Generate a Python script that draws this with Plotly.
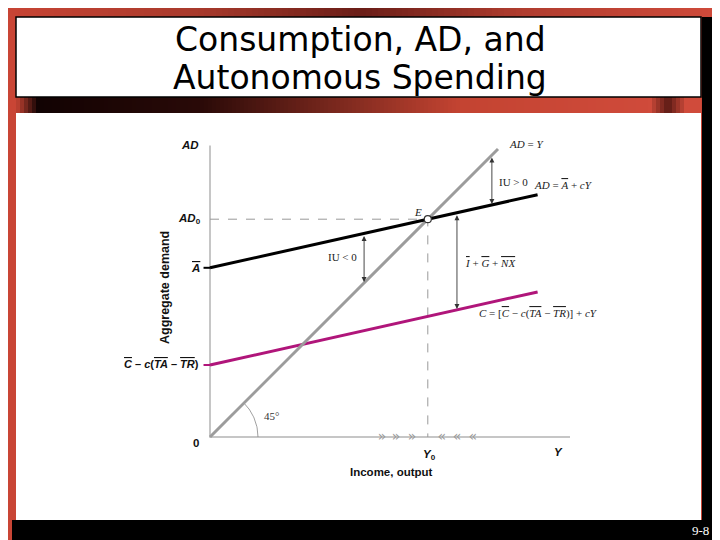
import numpy as np
import plotly.graph_objects as go

# chart values, in diagram units (1 unit = 36 px on the slide)
income = [0, 9.1]
ad_line = [4.7, 6.73]
consumption = [2.0, 4.03]
diag = [0, 8.0]
y0 = 6.05
ad0 = 6.05
axis_x_max = 10.0
axis_y_max = 8.1
iu_neg_x = 4.28
iu_pos_x = 7.83
spend_x = 6.86
right_marks = [4.78, 5.17, 5.61]
left_marks = [6.44, 6.86, 7.3]

# the page puts the figure 8px in from the top-left corner
OFF = 8
SW, SH = 720, 540
W, H = SW - OFF, SH - OFF
PX = 36
OX, OY = 210, 437


def dx(px):
    return (px - OX) / PX


def dy(py):
    return (OY - py) / PX


def ol(s):
    return '<span style="text-decoration:overline">' + s + '</span>'


def pxx(sx):
    return (sx - OFF) / W


def pxy(sy):
    return 1 - (sy - OFF) / H


shapes = []


def rect(x0, y0_, x1, y1, fill, line=None, lw=0):
    shapes.append(dict(type='rect', xref='paper', yref='paper',
                       x0=pxx(x0), x1=pxx(x1), y0=pxy(y1), y1=pxy(y0_),
                       fillcolor=fill, line=dict(color=line or fill, width=lw),
                       layer='below'))


def hexc(c):
    return np.array([int(c[i:i + 2], 16) for i in (1, 3, 5)], float)


def gradient(xs, cols, y0_, y1, step=6):
    xs = np.array(xs, float)
    cs = np.array([hexc(c) for c in cols])
    for x in np.arange(xs[0], xs[-1], step):
        m = x + step / 2
        rgb = [np.interp(m, xs, cs[:, k]) for k in range(3)]
        rect(x, y0_, min(x + step + 0.5, xs[-1]), y1,
             'rgb(%d,%d,%d)' % tuple(int(v) for v in rgb))


# slide decoration
gradient([0, 200, 360, 520, 720],
         ['#c94535', '#a83a2c', '#6a1e18', '#b03d2f', '#d04b3b'], 0, 17.5)
gradient([16, 38, 200, 460, 650, 668, 686, 701],
         ['#c94535', '#120303', '#2a0a08', '#c44432', '#d04b3b', '#5a1a14',
          '#d04b3b', '#d04b3b'], 97, 113, step=4)
rect(16, 17, 701, 97, 'white', 'black', 1.5)
rect(702, 17, 720, 540, 'black')
rect(16, 113, 701, 520, 'white')
rect(12, 520, 720, 540, 'black')

fig = go.Figure()

gray = '#9c9c9c'
# axes
fig.add_trace(go.Scatter(x=[0, 0, axis_x_max], y=[axis_y_max, 0, 0], mode='lines',
                         line=dict(color='#b4b4b4', width=1.5), hoverinfo='skip'))
# dashed guides
fig.add_trace(go.Scatter(x=[0, y0, y0], y=[ad0, ad0, 0], mode='lines',
                         line=dict(color='#999999', width=1, dash='dash'),
                         hoverinfo='skip'))
# 45 degree arc
t = np.linspace(0, np.pi / 4, 30)
r = 48 / PX
fig.add_trace(go.Scatter(x=r * np.cos(t), y=r * np.sin(t), mode='lines',
                         line=dict(color='#888888', width=0.8), hoverinfo='skip'))
# small ticks left of the axis
fig.add_trace(go.Scatter(x=[-0.18, 0], y=[ad_line[0]] * 2, mode='lines',
                         line=dict(color='black', width=2), hoverinfo='skip'))
fig.add_trace(go.Scatter(x=[-0.18, 0], y=[consumption[0]] * 2, mode='lines',
                         line=dict(color='#b0157a', width=2), hoverinfo='skip'))
# lines
fig.add_trace(go.Scatter(x=income, y=consumption, mode='lines',
                         line=dict(color='#b0157a', width=3), hoverinfo='skip'))
fig.add_trace(go.Scatter(x=diag, y=diag, mode='lines',
                         line=dict(color=gray, width=3), hoverinfo='skip'))
fig.add_trace(go.Scatter(x=income, y=ad_line, mode='lines',
                         line=dict(color='black', width=3), hoverinfo='skip'))
fig.add_trace(go.Scatter(x=[y0], y=[ad0], mode='markers',
                         marker=dict(color='white', size=7,
                                     line=dict(color='#333333', width=1.2)),
                         hoverinfo='skip'))
# arrows on the income axis
fig.add_trace(go.Scatter(x=right_marks, y=[0] * 3, mode='text', text=['»'] * 3,
                         textfont=dict(color='#999999', size=14, family='DejaVu Sans'),
                         hoverinfo='skip'))
fig.add_trace(go.Scatter(x=left_marks, y=[0] * 3, mode='text', text=['«'] * 3,
                         textfont=dict(color='#999999', size=14, family='DejaVu Sans'),
                         hoverinfo='skip'))

ann = []


def arrow(x, ya, yb):
    ann.append(dict(x=x, y=yb, ax=x, ay=ya, xref='x', yref='y', axref='x', ayref='y',
                    text='', showarrow=True, arrowhead=2, arrowside='end+start',
                    arrowsize=1.1, arrowwidth=0.9, arrowcolor='#333333',
                    standoff=1, startstandoff=1))


arrow(iu_neg_x, np.interp(iu_neg_x, income, ad_line), np.interp(iu_neg_x, diag, diag))
arrow(iu_pos_x, np.interp(iu_pos_x, diag, diag), np.interp(iu_pos_x, income, ad_line))
arrow(spend_x, np.interp(spend_x, income, ad_line), np.interp(spend_x, income, consumption))

serif = dict(family='Liberation Serif', size=11, color='#222222')
sans = dict(family='Liberation Sans', size=11.5, color='#111111')


def lab(px, py, text, font, xa='left', angle=0):
    ann.append(dict(x=dx(px), y=dy(py), xref='x', yref='y', text=text,
                    showarrow=False, xanchor=xa, yanchor='middle', font=font,
                    textangle=angle))


lab(507, 144, '<i>AD</i> = <i>Y</i>', serif)
lab(497, 182, 'IU &gt; 0', serif)
lab(532, 185, '<i>AD</i> = ' + ol('<i>A</i>') + ' + <i>cY</i>', serif)
lab(359, 257, 'IU &lt; 0', serif, xa='right')
lab(463, 263, ol('<i>I</i>') + ' + ' + ol('<i>G</i>') + ' + ' + ol('<i>NX</i>'), serif)
lab(477, 313, '<i>C</i> = [' + ol('<i>C</i>') + ' − <i>c</i>(' + ol('<i>TA</i>') + ' − '
    + ol('<i>TR</i>') + ')] + <i>cY</i>', serif)
lab(418, 212, '<i>E</i>', serif, xa='center')
lab(262, 416, '45°', dict(family='Liberation Serif', size=11, color='#333333'))

lab(201, 145, '<b><i>AD</i></b>', sans, xa='right')
lab(203, 219, '<b><i>AD</i><sub>0</sub></b>', sans, xa='right')
lab(202, 268, '<b>' + ol('<i>A</i>') + '</b>', sans, xa='right')
lab(201, 364, '<b>' + ol('<i>C</i>') + ' – <i>c</i>(' + ol('<i>TA</i>') + ' – '
    + ol('<i>TR</i>') + ')</b>', dict(sans, size=11), xa='right')
lab(165, 288, '<b>Aggregate demand</b>', dict(sans, size=12.5), xa='center', angle=-90)
lab(196, 443, '<b>0</b>', sans, xa='center')
lab(429, 455, '<b><i>Y</i><sub>0</sub></b>', sans, xa='center')
lab(558, 452, '<b><i>Y</i></b>', sans, xa='center')
lab(391, 472, '<b>Income, output</b>', dict(sans, size=11.5), xa='center')

# title and page number
for ty, line in [(39, 'Consumption, AD, and'), (77, 'Autonomous Spending')]:
    ann.append(dict(x=pxx(360), y=pxy(ty), xref='paper', yref='paper', text=line,
                    showarrow=False, xanchor='center', yanchor='middle',
                    font=dict(family='DejaVu Sans', size=33, color='black')))
ann.append(dict(x=pxx(711), y=pxy(530), xref='paper', yref='paper', text='9-8',
                showarrow=False, xanchor='right', yanchor='middle',
                font=dict(family='Liberation Serif', size=13, color='white')))

fig.update_layout(
    width=W, height=H, margin=dict(l=0, r=0, t=0, b=0),
    paper_bgcolor='#c94535', plot_bgcolor='rgba(0,0,0,0)',
    showlegend=False, shapes=shapes, annotations=ann,
    xaxis=dict(range=[dx(OFF), dx(SW)], visible=False, fixedrange=True),
    yaxis=dict(range=[dy(SH), dy(OFF)], visible=False, fixedrange=True),
)

fig.write_html("out.html")
